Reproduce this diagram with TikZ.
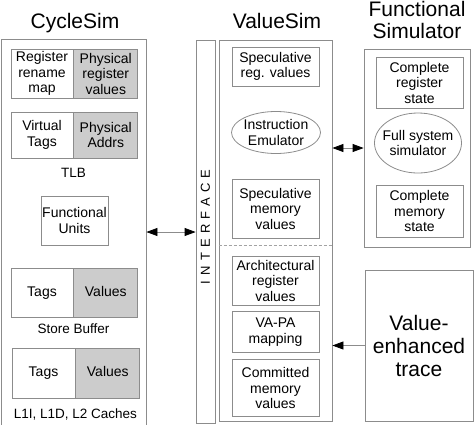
\documentclass[tikz,border=0pt]{standalone}
\usepackage{fontspec}
\setmainfont{Liberation Sans}
\newfontfamily\spacedfont[LetterSpace=40]{Liberation Sans}
\usetikzlibrary{arrows.meta,positioning,shapes.geometric}
\definecolor{linegray}{gray}{0.55}
\definecolor{cellgray}{gray}{0.8}

\begin{document}
\begin{tikzpicture}[
    x=1pt, y=-1pt,
    frame/.style={rectangle, draw=linegray, line width=0.8pt, inner sep=0pt},
    cell/.style={rectangle, draw=linegray, line width=0.8pt, inner sep=0pt,
                align=center, font=\fontsize{14}{15.5}\selectfont},
    shaded/.style={cell, fill=cellgray},
    oneline/.style={text height=10pt, text depth=3pt},
    oval/.style={ellipse, draw=linegray, line width=0.8pt, inner sep=0pt},
    ovaltext/.style={align=center, font=\fontsize{14}{15.5}\selectfont},
    title/.style={font=\fontsize{21}{22}\selectfont, align=center},
    lab/.style={font=\fontsize{13.5}{15}\selectfont, inner sep=0pt},
    arr/.style={draw=linegray, line width=0.8pt,
                >={Triangle[length=11pt,width=8pt,color=black]}}
]
\useasboundingbox (0,0) rectangle (474,424);

% CycleSim
\node[title, anchor=base] (cyctitle) at (75,28) {CycleSim};
\node[frame, minimum width=145pt, minimum height=386pt] (cyc) at (73.5,232) {};
\node[cell, minimum width=62pt, minimum height=49pt] (rename) at (42,73.5) {Register\\rename\\map};
\node[shaded, minimum width=64pt, minimum height=49pt, right=0pt of rename] (physreg) {Physical\\register\\values};
\node[cell, minimum width=62pt, minimum height=46pt] (vtags) at (42,135) {Virtual\\Tags};
\node[shaded, minimum width=64pt, minimum height=46pt, right=0pt of vtags] (paddr) {Physical\\Addrs};
\node[lab, below=10pt of vtags.south east] (tlb) {TLB};
\node[cell, minimum width=67pt, minimum height=49pt] (fu) at (74.5,220.5) {Functional\\Units};
\node[cell, oneline, minimum width=62pt, minimum height=49pt] (sbtags) at (42,292.5) {Tags};
\node[shaded, oneline, minimum width=64pt, minimum height=49pt, right=0pt of sbtags] (sbvals) {Values};
\node[lab, below=6pt of sbtags.south east] (sb) {Store Buffer};
\node[cell, oneline, minimum width=63pt, minimum height=50pt] (ctags) at (43.5,373) {Tags};
\node[shaded, oneline, minimum width=64pt, minimum height=50pt, right=0pt of ctags] (cvals) {Values};
\node[lab, below=10pt of ctags.south east] (caches) {L1I, L1D, L2 Caches};

% Interface
\node[frame, minimum width=19pt, minimum height=383pt] (ifc) at (205.5,232) {};
\node[rotate=90, font=\spacedfont\fontsize{13}{15}\selectfont] (ifctext) at ([yshift=5pt]ifc.center) {INTERFACE};

% ValueSim
\node[title, anchor=base] (valtitle) at (277,28) {ValueSim};
\node[frame, minimum width=113pt, minimum height=381pt] (val) at (275.5,230.5) {};
\node[cell, minimum width=87pt, minimum height=39pt] (specreg) at (275.5,66.5) {Speculative\\reg. values};
\node[oval, minimum width=89pt, minimum height=42pt,
      label={[ovaltext]center:Instruction\\Emulator}] (emul) at (276,132.5) {};
\node[cell, minimum width=87pt, minimum height=59pt] (specmem) at (275.5,208.5) {Speculative\\memory\\values};
\coordinate (split) at (275.5,245);
\draw[linegray!80, dash pattern=on 3pt off 2pt] (split -| val.west) -- (split -| val.east);
\node[cell, minimum width=87pt, minimum height=49pt] (arch) at (275.5,280.5) {Architectural\\register\\values};
\node[cell, minimum width=87pt, minimum height=41pt, below=6pt of arch] (vapa) {VA-PA\\mapping};
\node[cell, minimum width=87pt, minimum height=57pt, below=6pt of vapa] (commit) {Committed\\memory\\values};

% Functional simulator
\node[title] (fstitle) at (417,20) {Functional\\Simulator};
\node[frame, minimum width=106pt, minimum height=198pt] (fs) at (417,148) {};
\node[cell, minimum width=87pt, minimum height=51pt] (creg) at (419.5,82.5) {Complete\\register\\state};
\node[oval, minimum width=87pt, minimum height=60pt,
      label={[ovaltext]center:Full system\\simulator}] (fsim) at (418,143) {};
\node[cell, minimum width=87pt, minimum height=52pt] (cmem) at (419.5,211) {Complete\\memory\\state};

% Trace
\node[frame, minimum width=108pt, minimum height=151pt, align=center,
      font=\fontsize{21}{23}\selectfont] (trace) at (419,345.5) {Value-\\enhanced\\trace};

\draw[arr, <->] (cyc.east) -- (ifc.west);
\draw[arr, <->] (fs.west -| val.east) -- (fs.west);
\draw[arr, ->] (trace.west) -- (trace.west -| val.east);
\end{tikzpicture}
\end{document}
